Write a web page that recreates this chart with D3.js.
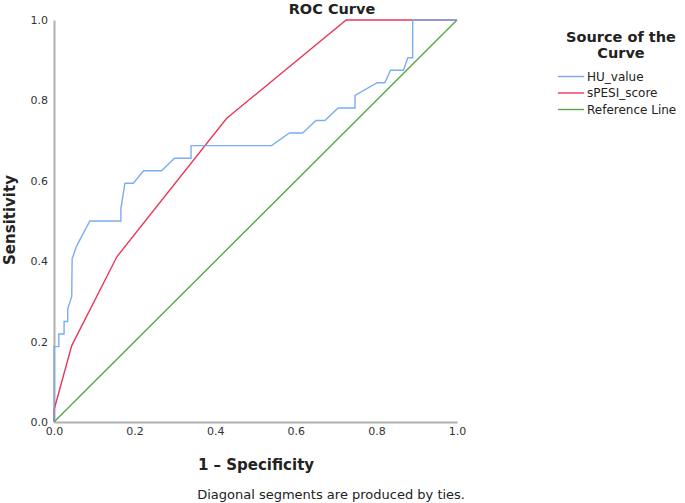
<!DOCTYPE html>
<html><head><meta charset="utf-8">
<script src="https://cdn.jsdelivr.net/npm/d3@7"></script>
<style>body{margin:0;background:#fff}svg{display:block}text{font-family:"DejaVu Sans",sans-serif}</style>
</head><body><svg id="c" width="685" height="503"></svg>
<script>
const tickValues = [0, 0.2, 0.4, 0.6, 0.8, 1.0];
const seriesNames = ["HU_value", "sPESI_score", "Reference Line"];
const seriesColors = ["#74a9f0", "#e8385a", "#55a845"];
const huFpr = [0, 0, 0.012, 0.012, 0.025, 0.025, 0.034, 0.034, 0.044, 0.045, 0.056, 0.089, 0.166, 0.166, 0.176, 0.197, 0.222, 0.267, 0.299, 0.340, 0.340, 0.540, 0.584, 0.617, 0.650, 0.672, 0.705, 0.747, 0.747, 0.802, 0.821, 0.835, 0.867, 0.878, 0.890, 0.890, 1.0];
const huTpr = [0, 0.1875, 0.1875, 0.219, 0.219, 0.25, 0.25, 0.281, 0.3125, 0.406, 0.4375, 0.5, 0.5, 0.531, 0.594, 0.594, 0.625, 0.625, 0.656, 0.656, 0.6875, 0.6875, 0.719, 0.719, 0.75, 0.75, 0.781, 0.781, 0.8125, 0.844, 0.844, 0.875, 0.875, 0.906, 0.906, 1.0, 1.0];
const sFpr = [0, 0, 0.044, 0.156, 0.428, 0.725, 1.0];
const sTpr = [0, 0.03, 0.19, 0.411, 0.755, 1.0, 1.0];
const refFpr = [0, 1];
const refTpr = [0, 1];

const svg = d3.select("#c");
const x = d3.scaleLinear().domain([0, 1]).range([54, 457]);
const y = d3.scaleLinear().domain([0, 1]).range([422, 20]);

// axes
const xa = svg.append("g").attr("transform", "translate(0,422)")
  .call(d3.axisBottom(x).tickValues(tickValues).tickSize(0).tickPadding(5).tickFormat(d3.format(".1f")));
const ya = svg.append("g").attr("transform", "translate(54,0)")
  .call(d3.axisLeft(y).tickValues(tickValues).tickSize(0).tickPadding(6).tickFormat(d3.format(".1f")));
[xa, ya].forEach(a => {
  a.select(".domain").attr("stroke", "#b0b0b0").attr("stroke-width", 2);
  a.selectAll("text").attr("font-size", 11).attr("fill", "#333").attr("font-family", "DejaVu Sans");
});
ya.selectAll("text").attr("dy", "0.32em");
xa.selectAll("text").attr("dy", "0.71em");

const line = d3.line().x(d => x(d[0])).y(d => y(d[1]));
const series = [
  d3.zip(huFpr, huTpr),
  d3.zip(sFpr, sTpr),
  d3.zip(refFpr, refTpr)
];
[2, 1, 0].forEach(i => {
  svg.append("path").datum(series[i]).attr("d", line)
    .attr("fill", "none").attr("stroke", seriesColors[i]).attr("stroke-width", 1.4)
    .attr("stroke-opacity", i === 0 ? 0.95 : 1);
});

// titles
svg.append("text").attr("x", 332).attr("y", 14).attr("text-anchor", "middle")
  .attr("font-size", 14.5).attr("font-weight", "bold").attr("fill", "#222").text("ROC Curve");
svg.append("text").attr("x", 256).attr("y", 470).attr("text-anchor", "middle")
  .attr("font-size", 15).attr("font-weight", "bold").attr("fill", "#222").text("1 – Specificity");
svg.append("text").attr("transform", "translate(15,220) rotate(-90)").attr("text-anchor", "middle")
  .attr("font-size", 15).attr("font-weight", "bold").attr("fill", "#222").text("Sensitivity");
svg.append("text").attr("x", 465).attr("y", 499).attr("text-anchor", "end")
  .attr("font-size", 13).attr("fill", "#222").text("Diagonal segments are produced by ties.");

// legend
const lg = svg.append("g");
lg.append("text").attr("x", 621).attr("y", 42).attr("text-anchor", "middle")
  .attr("font-size", 14.5).attr("font-weight", "bold").attr("fill", "#222").text("Source of the");
lg.append("text").attr("x", 621).attr("y", 58).attr("text-anchor", "middle")
  .attr("font-size", 14.5).attr("font-weight", "bold").attr("fill", "#222").text("Curve");
seriesNames.forEach((n, i) => {
  const yy = 76.5 + i * 16.5;
  lg.append("line").attr("x1", 558).attr("x2", 584).attr("y1", yy).attr("y2", yy)
    .attr("stroke", seriesColors[i]).attr("stroke-width", 1.4);
  lg.append("text").attr("x", 587).attr("y", yy).attr("dy", "0.35em")
    .attr("font-size", 12).attr("fill", "#222").text(n);
});
</script></body></html>
